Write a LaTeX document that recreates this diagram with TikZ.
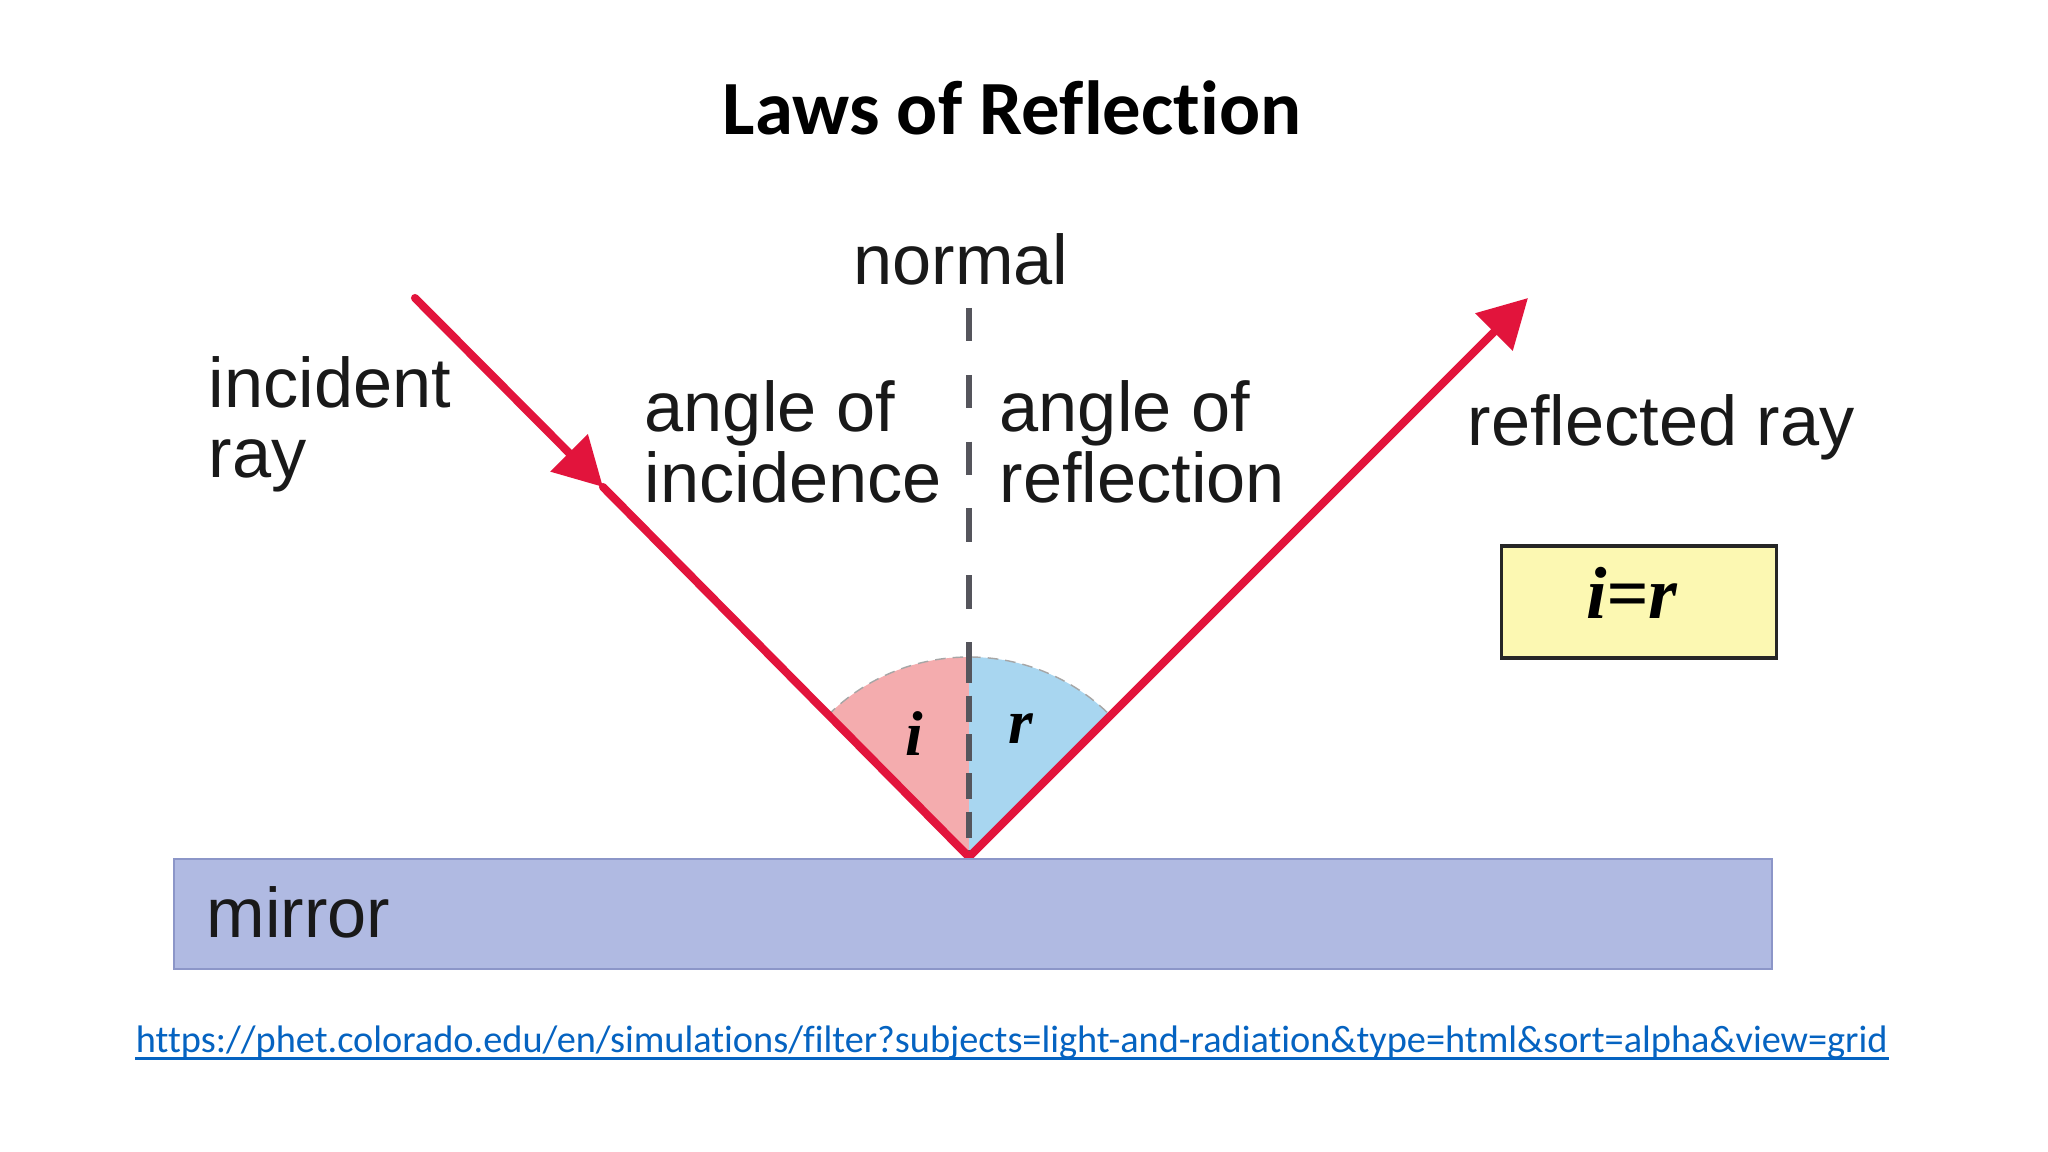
\documentclass[tikz,border=0pt]{standalone}
\usepackage{fontspec}
\setmainfont{Liberation Sans}
\newfontfamily\titlefont[Ligatures=NoCommon]{Carlito}
\newfontfamily\lserif{Liberation Serif}
\usetikzlibrary{arrows.meta}
\definecolor{rayred}{RGB}{226,20,60}
\definecolor{sectpink}{RGB}{244,172,174}
\definecolor{sectblue}{RGB}{168,214,240}
\definecolor{boxyellow}{RGB}{252,248,178}
\definecolor{mirrorfill}{RGB}{176,186,226}
\definecolor{mirrorline}{RGB}{140,150,200}
\definecolor{normalgray}{RGB}{85,85,92}
\definecolor{urlblue}{RGB}{5,99,193}
\begin{document}
\begin{tikzpicture}[x=0.01cm,y=-0.01cm,
  lbl/.style={font=\fontsize{20}{20}\selectfont, inner sep=0pt, align=left, text=black!90},
  ray/.style={draw=rayred, line width=2.3pt, line cap=round},
  rayhead/.style={-{Triangle[length=13.7pt,width=14.5pt]}},
  anglbl/.style={font=\lserif\bfseries\itshape\fontsize{18}{18}\selectfont, inner sep=0pt},
  normalline/.style={draw=normalgray, line width=1.5pt}
]
\useasboundingbox[fill=white] (0,0) rectangle (2048,1152);

% title
\node[font=\titlefont\bfseries\fontsize{21.8}{22}\selectfont, anchor=base, inner sep=0pt] (title) at (1012,135) {Laws of Reflection};

% key points
\coordinate (O) at (969,857);
\coordinate (I0) at (415,298);
\coordinate (Itip) at (603,487);
\coordinate (R1) at (1528,298);
\coordinate (Ntop) at (969,308);
\coordinate (Nmid) at (969,657);

% angle sectors
\fill[sectpink] (O) -- ++(225:200) arc[start angle=225, end angle=270, radius=200] -- cycle;
\fill[sectblue] (O) -- ++(270:200) arc[start angle=270, end angle=315, radius=200] -- cycle;
\draw[gray!70, line width=0.4pt, densely dashed] (O) ++(225:200) arc[start angle=225, end angle=315, radius=200];

% normal
\draw[normalline, dash pattern=on 9.5pt off 9.5pt] (Ntop) -- (Nmid);
\draw[normalline, dash pattern=on 7.5pt off 3.5pt] (Nmid) -- (O);

% rays
\draw[ray, rayhead] (I0) -- (Itip);
\draw[ray] (Itip) -- (O);
\draw[ray, rayhead] (O) -- (R1);

% mirror
\draw[fill=mirrorfill, draw=mirrorline, line width=0.8pt] (174,859) rectangle (1772,969);
\node[lbl, anchor=base west] (mirrorlbl) at (206,937) {mirror};

% labels (base = baseline of last line)
\node[lbl, anchor=base] (normallbl) at (961,285) {normal};
\node[lbl, anchor=base west] (inclbl) at (208,478) {incident\\ray};
\node[lbl, anchor=base west] (aoi) at (644,502) {angle of\\incidence};
\node[lbl, anchor=base west] (aor) at (999,502) {angle of\\reflection};
\node[lbl, anchor=base west] (reflbl) at (1467,446) {reflected ray};

\node[anglbl, anchor=base] (ilbl) at (914,755) {i};
\node[anglbl, anchor=base] (rlbl) at (1021,743) {r};

% i=r box
\node[draw=black!85, fill=boxyellow, line width=1pt, minimum width=2.75cm, minimum height=1.12cm, inner sep=0pt] (eqbox) at (1639,602) {};
\node[anglbl, font=\lserif\bfseries\itshape\fontsize{21}{21}\selectfont, anchor=base] (eqlbl) at (1632,618) {i=r};

% url
\node[font=\titlefont\fontsize{10.9}{11}\selectfont, text=urlblue, anchor=base, inner sep=0pt] (url) at (1012,1052) {https://phet.colorado.edu/en/simulations/filter?subjects=light-and-radiation\&type=html\&sort=alpha\&view=grid};
\draw[urlblue, line width=0.7pt] ([yshift=-1.8pt]url.base west) -- ([yshift=-1.8pt]url.base east);
\end{tikzpicture}
\end{document}
